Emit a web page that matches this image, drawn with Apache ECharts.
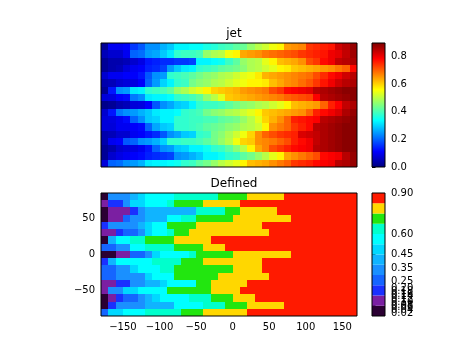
<!DOCTYPE html>
<html>
<head>
<meta charset="utf-8">
<style>
  html, body { margin: 0; padding: 0; background: #fff; }
  #chart { width: 474px; height: 355px; }
</style>
<script src="https://cdn.jsdelivr.net/npm/echarts@6/dist/echarts.min.js"></script>
</head>
<body>
<div id="chart"></div>
<script>
// cell centres
var lons = [-175,-165,-155,-145,-135,-125,-115,-105,-95,-85,-75,-65,-55,-45,-35,-25,-15,-5,5,15,25,35,45,55,65,75,85,95,105,115,125,135,145,155,165];
var lats = [80,70,60,50,40,30,20,10,0,-10,-20,-30,-40,-50,-60,-70,-80];

// values per row, top row first
var row80  = [.02,.10,.10,.11,.16,.19,.24,.24,.27,.29,.33,.33,.34,.34,.36,.37,.39,.40,.42,.43,.47,.50,.52,.55,.57,.65,.66,.67,.74,.75,.76,.77,.83,.85,.88];
var row70  = [.05,.07,.07,.10,.20,.21,.25,.26,.29,.32,.38,.39,.39,.40,.47,.49,.50,.55,.57,.64,.65,.66,.68,.69,.70,.71,.72,.74,.75,.76,.77,.80,.81,.84,.87];
var row60  = [.02,.04,.04,.05,.07,.09,.13,.14,.15,.15,.16,.16,.17,.33,.33,.34,.35,.39,.42,.47,.49,.50,.54,.57,.62,.63,.64,.66,.72,.74,.78,.80,.84,.85,.86];
var row50  = [.02,.04,.05,.08,.10,.11,.14,.15,.17,.25,.29,.32,.33,.38,.39,.40,.42,.43,.44,.46,.49,.50,.52,.54,.57,.58,.61,.62,.63,.64,.65,.66,.68,.70,.78];
var row40  = [.07,.10,.10,.11,.11,.13,.19,.24,.25,.38,.39,.40,.42,.44,.46,.47,.49,.50,.52,.54,.55,.58,.63,.64,.65,.66,.67,.68,.69,.72,.75,.78,.80,.83,.85];
var row30  = [.04,.05,.07,.08,.085,.11,.20,.25,.30,.33,.38,.39,.44,.46,.47,.49,.50,.52,.54,.55,.57,.57,.58,.62,.64,.66,.67,.69,.71,.74,.77,.80,.83,.85,.86];
var row20  = [.02,.13,.24,.25,.32,.33,.38,.39,.40,.42,.47,.49,.52,.54,.57,.60,.61,.62,.63,.65,.66,.67,.68,.72,.74,.78,.79,.80,.81,.85,.86,.87,.88,.89,.89];
var row10  = [.08,.085,.11,.12,.22,.24,.32,.33,.33,.34,.38,.39,.40,.42,.47,.50,.54,.61,.62,.63,.64,.65,.66,.67,.68,.70,.71,.72,.73,.79,.85,.86,.87,.88,.89];
var row0   = [.01,.02,.04,.05,.08,.085,.11,.19,.24,.26,.29,.30,.33,.38,.39,.39,.40,.42,.44,.46,.47,.49,.50,.52,.54,.57,.62,.63,.64,.65,.70,.76,.79,.84,.86];
var rowM10 = [.07,.13,.22,.24,.25,.27,.29,.32,.33,.33,.34,.38,.39,.40,.44,.46,.47,.49,.50,.52,.54,.57,.61,.62,.63,.64,.65,.66,.70,.76,.78,.80,.82,.86,.88];
var rowM20 = [.08,.085,.10,.12,.20,.24,.29,.30,.33,.33,.38,.38,.39,.39,.40,.40,.42,.43,.44,.47,.50,.54,.60,.63,.66,.70,.76,.77,.78,.79,.85,.86,.87,.88,.89];
var rowM30 = [.08,.08,.10,.10,.11,.12,.20,.26,.29,.30,.38,.38,.39,.40,.42,.43,.44,.46,.47,.49,.50,.52,.57,.66,.68,.70,.74,.76,.78,.85,.86,.87,.88,.89,.89];
var rowM40 = [.04,.05,.07,.07,.10,.11,.13,.15,.19,.24,.26,.29,.30,.38,.39,.44,.46,.49,.52,.55,.60,.66,.70,.72,.74,.75,.76,.82,.83,.84,.86,.87,.88,.89,.89];
var rowM50 = [.04,.10,.11,.19,.20,.24,.25,.27,.30,.38,.38,.39,.39,.40,.42,.44,.47,.50,.55,.60,.61,.66,.67,.68,.70,.72,.76,.78,.80,.84,.86,.87,.88,.89,.89];
var rowM60 = [.02,.04,.07,.08,.085,.10,.13,.20,.24,.25,.29,.30,.33,.33,.35,.38,.39,.42,.46,.50,.57,.64,.67,.72,.74,.76,.78,.79,.80,.85,.86,.87,.88,.89,.89];
var rowM70 = [.02,.07,.09,.10,.11,.12,.14,.15,.16,.17,.24,.25,.27,.29,.33,.33,.35,.38,.39,.42,.44,.47,.50,.54,.57,.64,.66,.68,.70,.72,.78,.79,.80,.85,.88];
var rowM80 = [.08,.20,.21,.24,.25,.27,.32,.33,.33,.34,.35,.38,.39,.42,.44,.47,.50,.52,.54,.57,.62,.63,.64,.66,.68,.70,.74,.75,.76,.78,.79,.80,.85,.86,.88];
var rows = [row80,row70,row60,row50,row40,row30,row20,row10,row0,rowM10,rowM20,rowM30,rowM40,rowM50,rowM60,rowM70,rowM80];

// tick labels
var xTicks = [-150,-100,-50,0,50,100,150];
var yTicks = [-50,0,50];
var jetTicks = [0,0.2,0.4,0.6,0.8];
var definedTicks = [0.90,0.60,0.45,0.35,0.25,0.20,0.18,0.16,0.14,0.12,0.10,0.08,0.06,0.04,0.02,0];

// colours
var jetColors = ['#00007f','#0000ff','#007fff','#00ffff','#7fff7f','#ffff00','#ff7f00','#ff0000','#7f0000'];
var definedColors = ['#2b0033','#7b1fa2','#1a30ff','#1565ff','#1a90ff','#10b4ff','#00d8ff','#00ffff','#00ffcc','#22e60f','#ffd700','#ff1a00'];
// value limits of the defined colours in the lower map
var definedLimits = [0,.03,.06,.075,.09,.125,.18,.22,.32,.38,.44,.60,.95];
// the colour bar below shows the colours in equal steps
var barSteps = [0,.075,.15,.225,.3,.375,.45,.525,.6,.675,.75,.825,.9];

var cells = [];
rows.forEach(function (row, r) {
    row.forEach(function (v, c) {
        cells.push([lons[c], lats[r], v]);
    });
});

var pieces = definedColors.map(function (color, i) {
    return { gte: definedLimits[i], lt: definedLimits[i + 1], color: color };
});
var barData = definedColors.map(function (color, i) {
    return [barSteps[i], barSteps[i + 1], i];
});

function renderCell(params, api) {
    var p0 = api.coord([api.value(0) - 5, api.value(1) + 5]);
    var p1 = api.coord([api.value(0) + 5, api.value(1) - 5]);
    var x = Math.round(p0[0]), y = Math.round(p0[1]);
    return {
        type: 'rect',
        shape: { x: x, y: y, width: Math.round(p1[0]) - x, height: Math.round(p1[1]) - y },
        style: { fill: api.visual('color') }
    };
}

function renderJetBar(params, api) {
    var p0 = api.coord([0, 0.9]);
    var p1 = api.coord([1, 0]);
    var stops = jetColors.map(function (color, i) {
        return { offset: 1 - i / (jetColors.length - 1), color: color };
    }).reverse();
    return {
        type: 'rect',
        shape: { x: p0[0], y: p0[1], width: p1[0] - p0[0], height: p1[1] - p0[1] },
        style: { fill: new echarts.graphic.LinearGradient(0, 0, 0, 1, stops) }
    };
}

function renderStep(params, api) {
    var p0 = api.coord([0, api.value(1)]);
    var p1 = api.coord([1, api.value(0)]);
    return {
        type: 'rect',
        shape: { x: p0[0], y: p0[1], width: p1[0] - p0[0], height: p1[1] - p0[1] },
        style: { fill: definedColors[api.value(2)] }
    };
}

var font = { fontFamily: 'DejaVu Sans', fontSize: 10, color: '#000' };
var tickStyle = { lineStyle: { color: '#000', width: 1 }, length: 3.5 };

function lonAxis(grid, labels) {
    return {
        type: 'value', gridIndex: grid, min: -180, max: 170,
        splitLine: { show: false }, axisLine: { show: false },
        axisTick: Object.assign({ show: true, customValues: xTicks }, tickStyle),
        axisLabel: Object.assign({
            show: labels, customValues: xTicks, margin: 6,
            formatter: function (v) { return String(v).replace('-', '\u2212'); }
        }, font)
    };
}
function latAxis(grid, labels) {
    return {
        type: 'value', gridIndex: grid, min: -85, max: 85,
        splitLine: { show: false }, axisLine: { show: false },
        axisTick: Object.assign({ show: true, customValues: yTicks }, tickStyle),
        axisLabel: Object.assign({
            show: labels, customValues: yTicks, margin: 6,
            formatter: function (v) { return String(v).replace('-', '\u2212'); }
        }, font)
    };
}
function barXAxis(grid) {
    return { type: 'value', gridIndex: grid, min: 0, max: 1, show: false };
}
function barYAxis(grid, ticks, digits) {
    return {
        type: 'value', gridIndex: grid, position: 'right', min: 0, max: 0.9,
        splitLine: { show: false }, axisLine: { show: false },
        axisTick: Object.assign({ show: true, customValues: ticks }, tickStyle),
        axisLabel: Object.assign({
            customValues: ticks, margin: 6,
            formatter: function (v) { return v.toFixed(digits); }
        }, font)
    };
}

var frame = { show: true, backgroundColor: 'transparent', borderColor: '#000', borderWidth: 1, z: 5 };

var myChart = echarts.init(document.getElementById('chart'), null, { renderer: 'canvas' });
myChart.setOption({
    animation: false,
    backgroundColor: '#fff',
    title: [
        { text: 'jet', left: 229, top: 23, textAlign: 'center',
          textStyle: { fontFamily: 'DejaVu Sans', fontSize: 12, fontWeight: 'normal', color: '#000' } },
        { text: 'Defined', left: 229, top: 173, textAlign: 'center',
          textStyle: { fontFamily: 'DejaVu Sans', fontSize: 12, fontWeight: 'normal', color: '#000' } }
    ],
    grid: [
        Object.assign({ left: 101, top: 43, width: 256, height: 124 }, frame),
        Object.assign({ left: 101, top: 193, width: 256, height: 123 }, frame),
        Object.assign({ left: 372, top: 43, width: 13, height: 124 }, frame),
        Object.assign({ left: 372, top: 193, width: 13, height: 123 }, frame)
    ],
    xAxis: [lonAxis(0, false), lonAxis(1, true), barXAxis(2), barXAxis(3)],
    yAxis: [latAxis(0, false), latAxis(1, true), barYAxis(2, jetTicks, 1), barYAxis(3, definedTicks, 2)],
    visualMap: [
        { type: 'continuous', show: false, seriesIndex: 0, dimension: 2, min: 0, max: 0.9, inRange: { color: jetColors } },
        { type: 'piecewise', show: false, seriesIndex: 1, dimension: 2, pieces: pieces }
    ],
    series: [
        { type: 'custom', xAxisIndex: 0, yAxisIndex: 0, data: cells, encode: { x: 0, y: 1 }, renderItem: renderCell, clip: true },
        { type: 'custom', xAxisIndex: 1, yAxisIndex: 1, data: cells, encode: { x: 0, y: 1 }, renderItem: renderCell, clip: true },
        { type: 'custom', xAxisIndex: 2, yAxisIndex: 2, data: [[0, 0.9]], renderItem: renderJetBar },
        { type: 'custom', xAxisIndex: 3, yAxisIndex: 3, data: barData, renderItem: renderStep }
    ]
});
</script>
</body>
</html>
